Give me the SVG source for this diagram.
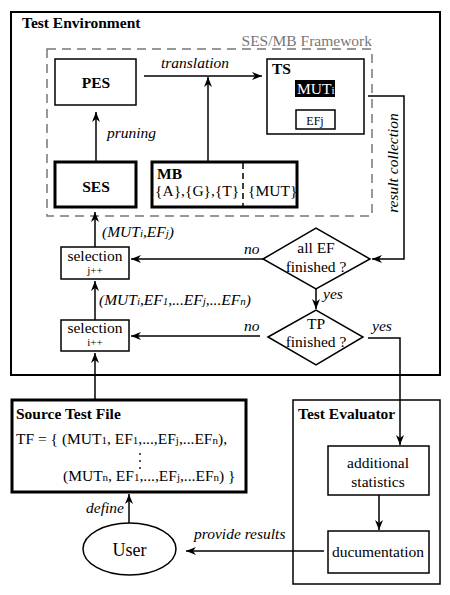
<svg xmlns="http://www.w3.org/2000/svg" width="450" height="595" viewBox="0 0 450 595" font-family="Liberation Serif, serif" font-size="15.5">
<defs>
<marker id="ah" markerUnits="userSpaceOnUse" markerWidth="12" markerHeight="10" refX="10" refY="4" orient="auto">
<path d="M0,0 L10,4 L0,8 L3,4 z" fill="#000"/>
</marker>
</defs>
<style>
.tx-bold{font-weight:bold}
.tx-it{font-style:italic}
.tx-sub{font-size:11px}
.shape-box{fill:#fff;stroke:#000;stroke-width:1.5}
.shape-thick{fill:#fff;stroke:#000;stroke-width:3}
.conn{fill:none;stroke:#000;stroke-width:1.5}
.conn-arrow{marker-end:url(#ah)}
</style>
<rect width="450" height="595" fill="#fff"/>

<g id="test-environment">
<rect x="11" y="12" width="429" height="363" fill="none" stroke="#000" stroke-width="2"/>
<text class="tx-bold" x="22" y="28">Test Environment</text>
</g>

<g id="framework">
<rect x="47" y="49" width="325" height="167" fill="none" stroke="#777" stroke-width="1.5" stroke-dasharray="9,6"/>
<text x="372" y="46" text-anchor="end" fill="#777">SES/MB Framework</text>
</g>

<g id="connectors">
<path class="conn conn-arrow" d="M144,76 H262"/>
<path class="conn conn-arrow" d="M208,162 V77"/>
<path class="conn conn-arrow" d="M96,162 V112"/>
<path class="conn conn-arrow" d="M368,96 H404 V259 H372"/>
<path class="conn conn-arrow" d="M335,88 H351 V119 H336"/>
<path class="conn conn-arrow" d="M296,119 H280 V88 H294"/>
<path class="conn conn-arrow" d="M95,247 V212"/>
<path class="conn conn-arrow" d="M263,259 H131"/>
<path class="conn conn-arrow" d="M316,289 V309"/>
<path class="conn conn-arrow" d="M260,336 H131"/>
<path class="conn conn-arrow" d="M95,320 V281"/>
<path class="conn conn-arrow" d="M95,400 V353"/>
<path class="conn conn-arrow" d="M368,338 H400 V445"/>
<path class="conn conn-arrow" d="M379,495 V530"/>
<path class="conn conn-arrow" d="M324,551 H186"/>
<path class="conn conn-arrow" d="M129,523 V494" stroke-width="2"/>
</g>

<g id="labels">
<text class="tx-it" x="195" y="68" text-anchor="middle">translation</text>
<text class="tx-it" x="107" y="138">pruning</text>
<text class="tx-it" transform="translate(398,163) rotate(-90)" text-anchor="middle">result collection</text>
<text class="tx-it" x="102" y="237">(MUT<tspan class="tx-sub">i</tspan>,EF<tspan class="tx-sub">j</tspan>)</text>
<text class="tx-it" x="99" y="305">(MUT<tspan class="tx-sub">i</tspan>,EF<tspan class="tx-sub">1</tspan>,...EF<tspan class="tx-sub">j</tspan>,...EF<tspan class="tx-sub">n</tspan>)</text>
<text class="tx-it" x="244" y="254">no</text>
<text class="tx-it" x="244" y="331">no</text>
<text class="tx-it" x="323" y="299">yes</text>
<text class="tx-it" x="372" y="331">yes</text>
<text class="tx-it" x="86" y="513">define</text>
<text class="tx-it" x="194" y="539">provide results</text>
</g>

<g id="pes">
<rect class="shape-box" x="55" y="59" width="81" height="46"/>
<text class="tx-bold" x="96" y="88" text-anchor="middle">PES</text>
</g>

<g id="ts">
<rect class="shape-box" x="267" y="59" width="97" height="75"/>
<text class="tx-bold" x="272" y="74">TS</text>
</g>

<g id="muti">
<rect x="295" y="80" width="40" height="17" fill="#000"/>
<text x="297" y="94" fill="#fff">MUT<tspan class="tx-sub">i</tspan></text>
</g>

<g id="efj">
<rect class="shape-box" x="296" y="110" width="39" height="19"/>
<text x="315" y="125" font-size="12" text-anchor="middle">EFj</text>
</g>

<g id="ses">
<rect class="shape-thick" x="55" y="162" width="81" height="45"/>
<text class="tx-bold" x="96" y="192" text-anchor="middle">SES</text>
</g>

<g id="mb">
<rect class="shape-thick" x="152" y="162" width="145" height="45"/>
<line x1="243" y1="163" x2="243" y2="206" stroke="#000" stroke-width="1.5" stroke-dasharray="6,4"/>
<text class="tx-bold" x="157" y="179">MB</text>
<text x="155" y="196">{A},{G},{T}</text>
<text x="248" y="196">{MUT}</text>
</g>

<g id="selection-j" text-anchor="middle">
<rect class="shape-box" x="61" y="247" width="68" height="32"/>
<text x="95" y="261">selection</text>
<text class="tx-sub" x="95" y="274">j++</text>
</g>

<g id="all-ef" text-anchor="middle">
<polygon class="shape-box" points="263,259 316,228 370,259 316,289"/>
<text x="316" y="253">all EF</text>
<text x="316" y="272">finished ?</text>
</g>

<g id="tp" text-anchor="middle">
<polygon class="shape-box" points="268,337 316,310 363,337 316,365"/>
<text x="316" y="329">TP</text>
<text x="316" y="347">finished ?</text>
</g>

<g id="selection-i" text-anchor="middle">
<rect class="shape-box" x="61" y="320" width="68" height="31"/>
<text x="95" y="333">selection</text>
<text class="tx-sub" x="95" y="346">i++</text>
</g>

<g id="source-test-file">
<rect class="shape-thick" x="12" y="400" width="234" height="92"/>
<text class="tx-bold" x="16" y="419">Source Test File</text>
<text x="16" y="444">TF = { (MUT<tspan class="tx-sub">1</tspan>, EF<tspan class="tx-sub">1</tspan>,...,EF<tspan class="tx-sub">j</tspan>,...EF<tspan class="tx-sub">n</tspan>),</text>
<circle cx="140" cy="454" r="0.9"/>
<circle cx="140" cy="461" r="0.9"/>
<circle cx="140" cy="468" r="0.9"/>
<text x="63" y="481">(MUT<tspan class="tx-sub">n</tspan>, EF<tspan class="tx-sub">1</tspan>,...,EF<tspan class="tx-sub">j</tspan>,...EF<tspan class="tx-sub">n</tspan>) }</text>
</g>

<g id="test-evaluator">
<rect x="293" y="400" width="147" height="184" fill="none" stroke="#000" stroke-width="1.5"/>
<text class="tx-bold" x="298" y="419">Test Evaluator</text>
</g>

<g id="additional-statistics" text-anchor="middle">
<rect class="shape-box" x="328" y="446" width="101" height="49"/>
<text x="378" y="468">additional</text>
<text x="378" y="487">statistics</text>
</g>

<g id="documentation" text-anchor="middle">
<rect class="shape-box" x="328" y="531" width="101" height="42"/>
<text x="378" y="557">ducumentation</text>
</g>

<g id="user" text-anchor="middle">
<ellipse cx="129.5" cy="549" rx="46.5" ry="26" fill="#fff" stroke="#000" stroke-width="1.5"/>
<text x="129.5" y="556" font-size="18">User</text>
</g>
</svg>
